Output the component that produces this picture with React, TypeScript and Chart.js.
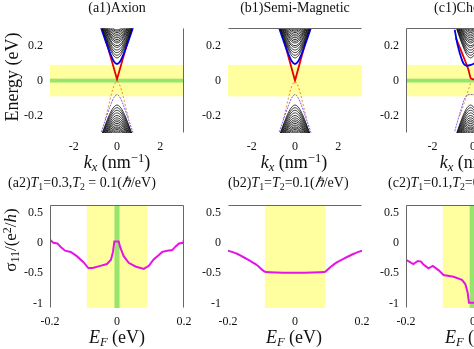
import React, { useEffect, useRef } from "react";
import { Chart, registerables } from "chart.js";
Chart.register(...registerables);

const FONT = '"Liberation Serif", "Times New Roman", serif';

// ---------- top row: band structures ----------
const kGrid = [-0.9, -0.7, -0.5, -0.3, -0.15, 0, 0.15, 0.3, 0.5, 0.7, 0.9];
const kGridChern = [-1.02, -0.82, -0.62, -0.42, -0.27, -0.12, 0.03, 0.18, 0.38, 0.58, 0.78];

const upperSubbands: number[][] = [
  [0.374, 0.302, 0.234, 0.175, 0.142, 0.13, 0.142, 0.175, 0.234, 0.302, 0.374],
  [0.38, 0.309, 0.243, 0.186, 0.156, 0.145, 0.156, 0.186, 0.243, 0.309, 0.38],
  [0.386, 0.316, 0.252, 0.198, 0.17, 0.16, 0.17, 0.198, 0.252, 0.316, 0.386],
  [0.392, 0.324, 0.262, 0.21, 0.184, 0.175, 0.184, 0.21, 0.262, 0.324, 0.392],
  [0.399, 0.333, 0.272, 0.223, 0.199, 0.19, 0.199, 0.223, 0.272, 0.333, 0.399],
  [0.404, 0.338, 0.279, 0.232, 0.208, 0.2, 0.208, 0.232, 0.279, 0.338, 0.404],
  [0.412, 0.347, 0.29, 0.245, 0.223, 0.215, 0.223, 0.245, 0.29, 0.347, 0.412],
  [0.417, 0.354, 0.298, 0.254, 0.232, 0.225, 0.232, 0.254, 0.298, 0.354, 0.417],
  [0.422, 0.36, 0.305, 0.262, 0.242, 0.235, 0.242, 0.262, 0.305, 0.36, 0.422],
  [0.428, 0.367, 0.313, 0.271, 0.252, 0.245, 0.252, 0.271, 0.313, 0.367, 0.428],
  [0.434, 0.373, 0.321, 0.281, 0.262, 0.255, 0.262, 0.281, 0.321, 0.373, 0.434],
  [0.44, 0.38, 0.329, 0.29, 0.271, 0.265, 0.271, 0.29, 0.329, 0.38, 0.44],
  [0.446, 0.387, 0.337, 0.299, 0.281, 0.275, 0.281, 0.299, 0.337, 0.387, 0.446],
  [0.451, 0.393, 0.344, 0.306, 0.289, 0.283, 0.289, 0.306, 0.344, 0.393, 0.451],
  [0.455, 0.398, 0.349, 0.313, 0.296, 0.29, 0.296, 0.313, 0.349, 0.398, 0.455],
];
const lowerSubbands: number[][] = [
  [-0.378, -0.307, -0.24, -0.182, -0.152, -0.14, -0.152, -0.182, -0.24, -0.307, -0.378],
  [-0.384, -0.314, -0.249, -0.194, -0.166, -0.155, -0.166, -0.194, -0.249, -0.314, -0.384],
  [-0.39, -0.322, -0.259, -0.206, -0.18, -0.17, -0.18, -0.206, -0.259, -0.322, -0.39],
  [-0.397, -0.33, -0.269, -0.219, -0.194, -0.185, -0.194, -0.219, -0.269, -0.33, -0.397],
  [-0.404, -0.338, -0.279, -0.232, -0.208, -0.2, -0.208, -0.232, -0.279, -0.338, -0.404],
  [-0.411, -0.346, -0.289, -0.243, -0.221, -0.213, -0.221, -0.243, -0.289, -0.346, -0.411],
  [-0.417, -0.354, -0.298, -0.254, -0.232, -0.225, -0.232, -0.254, -0.298, -0.354, -0.417],
  [-0.422, -0.36, -0.305, -0.262, -0.242, -0.235, -0.242, -0.262, -0.305, -0.36, -0.422],
  [-0.428, -0.367, -0.313, -0.271, -0.252, -0.245, -0.252, -0.271, -0.313, -0.367, -0.428],
  [-0.434, -0.373, -0.321, -0.281, -0.262, -0.255, -0.262, -0.281, -0.321, -0.373, -0.434],
  [-0.44, -0.38, -0.329, -0.29, -0.271, -0.265, -0.271, -0.29, -0.329, -0.38, -0.44],
  [-0.444, -0.385, -0.335, -0.296, -0.278, -0.272, -0.278, -0.296, -0.335, -0.385, -0.444],
  [-0.449, -0.391, -0.341, -0.303, -0.286, -0.28, -0.286, -0.303, -0.341, -0.391, -0.449],
  [-0.454, -0.397, -0.348, -0.311, -0.294, -0.288, -0.294, -0.311, -0.348, -0.397, -0.454],
  [-0.458, -0.402, -0.354, -0.317, -0.301, -0.295, -0.301, -0.317, -0.354, -0.402, -0.458],
];
const blueUpper = [0.364, 0.289, 0.217, 0.151, 0.111, 0.095, 0.111, 0.151, 0.217, 0.289, 0.364];
const blueLower = [-0.36, -0.284, -0.211, -0.142, -0.099, -0.08, -0.099, -0.142, -0.211, -0.284, -0.36];

const redUpperK = [-0.5, 0, 0.5];
const redUpperAxion = [0.225, 0.008, 0.225];
const redUpperSemi = [0.225, 0.0, 0.225];
const redLowerK = [-0.55, 0, 0.55];
const redLowerE = [-0.22, -0.005, -0.22];

const chernRedK = [-0.85, -0.55, -0.22, -0.1, 0.2];
const chernRedE = [0.245, 0.16, 0.06, 0.012, 0.005];
const chernBlueK = [-0.9, -0.75, -0.55, -0.45, -0.3, -0.1, 0.1];
const chernBlueE = [0.29, 0.2, 0.12, 0.095, 0.085, 0.09, 0.1];
const chernRedLowK = [-0.65, -0.35, -0.1];
const chernRedLowE = [-0.2, -0.1, -0.005];
const chernBlueLowK = [-0.9, -0.6, -0.4, -0.2, 0.1];
const chernBlueLowE = [-0.29, -0.17, -0.1, -0.08, -0.08];

const energyTicks = [-0.2, 0, 0.2];
const kTicks = [-2, 0, 2];

// ---------- bottom row: conductance ----------
const efTicks = [-0.2, 0, 0.2];
const sigmaTicks = [-1, -0.5, 0, 0.5];

const efAxion = [-0.2, -0.19, -0.178, -0.168, -0.155, -0.138, -0.12, -0.1, -0.085, -0.07, -0.05, -0.03, -0.018, -0.012, -0.008, 0.005, 0.01, 0.02, 0.035, 0.055, 0.08, 0.095, 0.11, 0.125, 0.135, 0.15, 0.165, 0.175, 0.185, 0.198, 0.2];
const sigmaAxion = [0.05, 0.0, -0.01, -0.07, -0.13, -0.15, -0.22, -0.32, -0.42, -0.41, -0.38, -0.35, -0.28, -0.15, 0.02, 0.02, -0.08, -0.22, -0.33, -0.39, -0.43, -0.38, -0.27, -0.2, -0.15, -0.13, -0.12, -0.06, -0.01, 0.0, 0.06];

const efSemi = [-0.2, -0.173, -0.143, -0.113, -0.088, 0.088, 0.106, 0.126, 0.146, 0.176, 0.2];
const sigmaSemi = [-0.13, -0.18, -0.27, -0.37, -0.48, -0.48, -0.4, -0.32, -0.26, -0.18, -0.13];

const efChern = [-0.2, -0.188, -0.178, -0.165, -0.155, -0.148, -0.133, -0.12, -0.103, -0.088, -0.058, -0.033, -0.023, -0.016, -0.012, 0.0, 0.05];
const sigmaChern = [-0.28, -0.32, -0.35, -0.3, -0.31, -0.36, -0.42, -0.38, -0.45, -0.53, -0.56, -0.61, -0.68, -0.82, -0.99, -0.99, -0.99];

const windowHalf = 0.09;

// ---------- layout ----------
const L = 46, T = 3, R = 16, B = 28;

const pts = (xs: number[], ys: number[]) => xs.map((x, i) => ({ x, y: ys[i] }));

function lineDs(data: any[], color: string, width: number, dash: number[] = []) {
  return {
    data,
    showLine: true,
    borderColor: color,
    backgroundColor: color,
    borderWidth: width,
    borderDash: dash,
    pointRadius: 0,
    cubicInterpolationMode: "monotone",
    fill: false,
  };
}

type PanelCfg = {
  datasets: any[];
  xMin: number; xMax: number; yMin: number; yMax: number;
  xTicks: number[]; yTicks: number[];
  band: "h" | "v";
  greenHalf: number;
  frame: { top?: boolean; left?: boolean; right?: boolean; bottom?: boolean };
};

function buildConfig(p: PanelCfg): any {
  const tickFont = { family: FONT, size: 12 };
  const bgPlugin = {
    id: "bands",
    beforeDatasetsDraw(chart: any) {
      const { ctx, chartArea: ca, scales } = chart;
      const xs = scales.x, ys = scales.y;
      ctx.save();
      ctx.beginPath();
      ctx.rect(ca.left, ca.top, ca.right - ca.left, ca.bottom - ca.top);
      ctx.clip();
      ctx.fillStyle = "rgb(255,255,160)";
      if (p.band === "h") {
        const y1 = ys.getPixelForValue(windowHalf), y2 = ys.getPixelForValue(-windowHalf);
        ctx.fillRect(ca.left, y1, ca.right - ca.left, y2 - y1);
        if (p.greenHalf > 0) {
          ctx.fillStyle = "rgb(150,230,110)";
          const g1 = ys.getPixelForValue(p.greenHalf), g2 = ys.getPixelForValue(-p.greenHalf);
          ctx.fillRect(ca.left, g1, ca.right - ca.left, g2 - g1);
        }
      } else {
        const x1 = xs.getPixelForValue(-windowHalf), x2 = xs.getPixelForValue(windowHalf);
        ctx.fillRect(x1, ca.top, x2 - x1, ca.bottom - ca.top);
        if (p.greenHalf > 0) {
          ctx.fillStyle = "rgb(150,230,110)";
          const g1 = xs.getPixelForValue(-p.greenHalf), g2 = xs.getPixelForValue(p.greenHalf);
          ctx.fillRect(g1, ca.top, g2 - g1, ca.bottom - ca.top);
        }
      }
      ctx.restore();
    },
    afterDatasetsDraw(chart: any) {
      const { ctx, chartArea: ca } = chart;
      ctx.save();
      ctx.strokeStyle = "#666";
      ctx.lineWidth = 1;
      ctx.beginPath();
      const l = Math.round(ca.left) + 0.5, r = Math.round(ca.right) - 0.5;
      const t = Math.round(ca.top) + 0.5, b = Math.round(ca.bottom) - 0.5;
      if (p.frame.top) { ctx.moveTo(l, t); ctx.lineTo(r, t); }
      if (p.frame.left) { ctx.moveTo(l, t); ctx.lineTo(l, b); }
      if (p.frame.right) { ctx.moveTo(r, t); ctx.lineTo(r, b); }
      if (p.frame.bottom) { ctx.moveTo(l, b); ctx.lineTo(r, b); }
      ctx.stroke();
      ctx.restore();
    },
  };
  return {
    type: "scatter",
    data: { datasets: p.datasets },
    plugins: [bgPlugin],
    options: {
      responsive: false,
      animation: false,
      devicePixelRatio: 1,
      events: [],
      layout: { padding: { top: T, right: R, left: 0, bottom: 0 } },
      plugins: { legend: { display: false }, tooltip: { enabled: false }, title: { display: false } },
      scales: {
        x: {
          type: "linear", min: p.xMin, max: p.xMax,
          grid: { display: false, drawTicks: false },
          border: { display: false },
          ticks: { font: tickFont, color: "#111", padding: 7, maxRotation: 0, autoSkip: false, callback: (v: any) => String(v) },
          afterBuildTicks: (s: any) => { s.ticks = p.xTicks.map((v) => ({ value: v })); },
          afterFit: (s: any) => { s.height = B; },
        },
        y: {
          type: "linear", min: p.yMin, max: p.yMax,
          grid: { display: false, drawTicks: false },
          border: { display: false },
          ticks: { font: tickFont, color: "#111", padding: 7, autoSkip: false, callback: (v: any) => String(v) },
          afterBuildTicks: (s: any) => { s.ticks = p.yTicks.map((v) => ({ value: v })); },
          afterFit: (s: any) => { s.width = L; },
        },
      },
    },
  };
}

function Panel({ left, top, w, h, cfg }: { left: number; top: number; w: number; h: number; cfg: PanelCfg }) {
  const ref = useRef<HTMLCanvasElement>(null);
  useEffect(() => {
    const chart = new Chart(ref.current as HTMLCanvasElement, buildConfig(cfg));
    return () => chart.destroy();
  }, []);
  const cw = w + L + R, ch = h + T + B;
  return (
    <canvas
      ref={ref}
      width={cw}
      height={ch}
      style={{ position: "absolute", left: left - L, top: top - T, width: cw, height: ch }}
    />
  );
}

function bandDatasets(kBlack: number[], redUp: number[], variant: "axion" | "semi" | "chern") {
  const ds: any[] = [];
  upperSubbands.forEach((e) => ds.push(lineDs(pts(kBlack, e), "#000", 0.8)));
  lowerSubbands.forEach((e) => ds.push(lineDs(pts(kBlack, e), "#000", 0.8)));
  if (variant === "chern") {
    ds.push(lineDs(pts(chernBlueLowK, chernBlueLowE), "rgb(90,60,220)", 0.8, [2, 1]));
    ds.push(lineDs(pts(chernRedLowK, chernRedLowE), "rgb(230,110,0)", 0.8, [2, 2]));
    ds.push(lineDs(pts(chernBlueK, chernBlueE), "rgb(0,0,230)", 1.8));
    ds.push(lineDs(pts(chernRedK, chernRedE), "rgb(230,0,0)", 1.8));
  } else {
    ds.push(lineDs(pts(kGrid, blueLower), "rgb(90,60,220)", 0.8, [2, 1]));
    ds.push(lineDs(pts(redLowerK, redLowerE), "rgb(230,110,0)", 0.8, [2, 2]));
    ds.push(lineDs(pts(kGrid, blueUpper), "rgb(0,0,230)", 1.8));
    ds.push({ ...lineDs(pts(redUpperK, redUp), "rgb(230,0,0)", 1.8), cubicInterpolationMode: "default", tension: 0 });
  }
  return ds;
}

const topY = 17, topH = 116, botY = 194, botH = 114, panelW = 134;

const Sub = ({ children }: any) => <sub style={{ fontSize: "0.7em", verticalAlign: "-0.25em" }}>{children}</sub>;
const Sup = ({ children }: any) => <sup style={{ fontSize: "0.7em", verticalAlign: "0.45em" }}>{children}</sup>;

const txt = (extra: React.CSSProperties): React.CSSProperties => ({
  position: "absolute",
  whiteSpace: "nowrap",
  lineHeight: 1,
  fontFamily: FONT,
  color: "#111",
  ...extra,
});

export default function App() {
  const topPanels: { left: number; cfg: PanelCfg }[] = [
    {
      left: 50,
      cfg: { datasets: bandDatasets(kGrid, redUpperAxion, "axion"), xMin: -3.1, xMax: 3.1, yMin: -0.3, yMax: 0.3, xTicks: kTicks, yTicks: energyTicks, band: "h", greenHalf: 0.011, frame: { right: true } },
    },
    {
      left: 228,
      cfg: { datasets: bandDatasets(kGrid, redUpperSemi, "semi"), xMin: -3.1, xMax: 3.1, yMin: -0.3, yMax: 0.3, xTicks: kTicks, yTicks: energyTicks, band: "h", greenHalf: 0, frame: { top: true } },
    },
    {
      left: 406,
      cfg: { datasets: bandDatasets(kGridChern, redUpperAxion, "chern"), xMin: -3.3, xMax: 3.3, yMin: -0.3, yMax: 0.3, xTicks: kTicks, yTicks: energyTicks, band: "h", greenHalf: 0.011, frame: { top: true, left: true } },
    },
  ];
  const magenta = "rgb(228,20,228)";
  const botPanels: { left: number; cfg: PanelCfg }[] = [
    {
      left: 50,
      cfg: { datasets: [{ ...lineDs(pts(efAxion, sigmaAxion), magenta, 2), cubicInterpolationMode: "default", tension: 0 }], xMin: -0.2, xMax: 0.2, yMin: -1.075, yMax: 0.62, xTicks: efTicks, yTicks: sigmaTicks, band: "v", greenHalf: 0.0075, frame: { top: true, left: true, right: true } },
    },
    {
      left: 228,
      cfg: { datasets: [{ ...lineDs(pts(efSemi, sigmaSemi), magenta, 2), cubicInterpolationMode: "default", tension: 0.2 }], xMin: -0.2, xMax: 0.2, yMin: -1.075, yMax: 0.62, xTicks: efTicks, yTicks: sigmaTicks, band: "v", greenHalf: 0, frame: { top: true } },
    },
    {
      left: 406,
      cfg: { datasets: [{ ...lineDs(pts(efChern, sigmaChern), magenta, 2), cubicInterpolationMode: "default", tension: 0 }], xMin: -0.2, xMax: 0.2, yMin: -1.075, yMax: 0.62, xTicks: efTicks, yTicks: sigmaTicks, band: "v", greenHalf: 0.01, frame: { top: true, left: true } },
    },
  ];

  const kLabel = (cx: number) => (
    <div style={txt({ left: cx, top: 163, transform: "translate(-50%,-50%)", fontSize: 18 })}>
      <i>k</i><Sub><i>x</i></Sub> (nm<Sup>−1</Sup>)
    </div>
  );
  const eLabel = (cx: number) => (
    <div style={txt({ left: cx, top: 338, transform: "translate(-50%,-50%)", fontSize: 18 })}>
      <i>E</i><Sub><i>F</i></Sub> (eV)
    </div>
  );

  return (
    <div style={{ position: "fixed", left: 0, top: 0, width: 474, height: 349, overflow: "hidden", background: "#fff" }}>
      {topPanels.map((p, i) => (
        <Panel key={"t" + i} left={p.left} top={topY} w={panelW} h={topH} cfg={p.cfg} />
      ))}
      {botPanels.map((p, i) => (
        <Panel key={"b" + i} left={p.left} top={botY} w={panelW} h={botH} cfg={p.cfg} />
      ))}

      <div style={txt({ left: 117, top: 8, transform: "translate(-50%,-50%)", fontSize: 14 })}>(a1)Axion</div>
      <div style={txt({ left: 295, top: 8, transform: "translate(-50%,-50%)", fontSize: 14 })}>(b1)Semi-Magnetic</div>
      <div style={txt({ left: 434, top: 8, transform: "translateY(-50%)", fontSize: 14 })}>(c1)Chern</div>

      <div style={txt({ left: 8, top: 184, transform: "translateY(-50%)", fontSize: 14 })}>
        (a2)<i>T</i><Sub>1</Sub>=0.3,<i>T</i><Sub>2</Sub> = 0.1(<i>ℏ</i>/eV)
      </div>
      <div style={txt({ left: 228, top: 184, transform: "translateY(-50%)", fontSize: 14 })}>
        (b2)<i>T</i><Sub>1</Sub>=<i>T</i><Sub>2</Sub>=0.1(<i>ℏ</i>/eV)
      </div>
      <div style={txt({ left: 388, top: 184, transform: "translateY(-50%)", fontSize: 14 })}>
        (c2)<i>T</i><Sub>1</Sub>=0.1,<i>T</i><Sub>2</Sub>=0.3(<i>ℏ</i>/eV)
      </div>

      <div style={txt({ left: 12, top: 77, transform: "translate(-50%,-50%) rotate(-90deg)", fontSize: 18 })}>Energy (eV)</div>
      <div style={txt({ left: 12, top: 240, transform: "translate(-50%,-50%) rotate(-90deg)", fontSize: 17 })}>
        σ<Sub>11</Sub>/(e<Sup>2</Sup>/<i>h</i>)
      </div>

      {kLabel(117)}
      {kLabel(294)}
      {kLabel(473)}
      {eLabel(117)}
      {eLabel(294)}
      {eLabel(473)}
    </div>
  );
}
